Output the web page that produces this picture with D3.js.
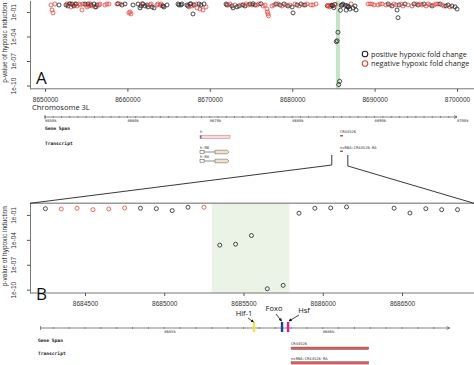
<!DOCTYPE html>
<html>
<head>
<meta charset="utf-8">
<script src="https://cdn.jsdelivr.net/npm/d3@7"></script>
<style>
  body { margin: 0; background: #fff; }
  svg { display: block; }
</style>
</head>
<body>
<div id="canvas"></div>
<script>
// ---- data ----
// panel A: positions in kb, p-values, sign of the hypoxic fold change (1 = positive, 0 = negative)
var posA = [8650.73, 8650.85, 8650.97, 8651.21, 8651.70, 8652.55, 8652.67, 8652.79, 8652.91, 8653.03,
  8653.16, 8653.28, 8653.40, 8653.52, 8653.64, 8653.76, 8653.88, 8654.13, 8654.25, 8654.49,
  8654.61, 8654.85, 8654.98, 8655.10, 8655.22, 8655.34, 8655.46, 8655.58, 8655.70, 8655.95,
  8656.07, 8656.19, 8656.31, 8656.55, 8656.67, 8657.28, 8657.52, 8657.77, 8658.74, 8658.86,
  8659.10, 8659.34, 8659.71, 8660.19, 8660.32, 8660.44, 8660.68, 8661.29, 8661.53, 8661.65,
  8661.77, 8661.89, 8662.14, 8662.38, 8662.50, 8662.74, 8662.86, 8662.99, 8663.23, 8663.59,
  8663.71, 8663.96, 8664.08, 8664.20, 8664.32, 8664.44, 8664.81, 8666.14, 8666.26, 8666.50,
  8666.63, 8667.23, 8667.35, 8667.48, 8667.60, 8667.72, 8667.84, 8667.96, 8668.08, 8668.33,
  8668.45, 8668.69, 8668.81, 8668.93, 8669.17, 8669.30, 8669.54, 8671.97, 8672.09, 8672.21,
  8672.45, 8672.69, 8672.82, 8673.06, 8673.30, 8673.54, 8673.79, 8674.03, 8674.27, 8674.39,
  8674.64, 8674.88, 8675.12, 8675.24, 8675.49, 8675.73, 8675.97, 8676.21, 8676.46, 8676.70,
  8676.94, 8677.00, 8677.06, 8677.12, 8677.55, 8677.79, 8678.03, 8678.28, 8678.52, 8678.76,
  8679.01, 8679.25, 8679.49, 8679.73, 8679.98, 8680.10, 8680.34, 8680.58, 8680.83, 8681.07,
  8681.31, 8681.55, 8681.80, 8682.28, 8682.52, 8682.89, 8687.00, 8687.14, 8687.38, 8687.62,
  8687.75, 8689.20, 8689.44, 8689.68, 8689.93, 8690.41, 8690.66, 8690.90, 8691.38, 8691.63,
  8691.87, 8692.11, 8692.35, 8692.60, 8692.72, 8692.84, 8692.96, 8693.20, 8693.45, 8693.69,
  8694.05, 8694.54, 8694.78, 8695.02, 8695.27, 8695.51, 8695.75, 8695.99, 8696.24, 8696.48,
  8696.72, 8696.97, 8697.21, 8697.45, 8697.69, 8697.94, 8698.18, 8698.42, 8698.67, 8698.91,
  8699.15, 8699.39, 8699.76, 8700.00]
var pA = [0.71, 0.175, 0.076, 0.94, 0.71, 0.71, 0.94, 0.54, 0.94, 1.0,
  0.41, 0.94, 0.71, 0.54, 0.94, 0.94, 0.54, 0.94, 0.71, 0.175,
  0.94, 0.94, 0.71, 0.41, 0.94, 0.54, 1.0, 0.71, 0.54, 0.94,
  0.41, 0.41, 0.71, 0.71, 0.94, 0.71, 0.94, 0.94, 0.94, 1.0,
  0.94, 0.71, 0.94, 0.076, 0.1, 0.057, 0.71, 0.94, 0.31, 0.54,
  1.0, 0.94, 0.54, 0.71, 0.41, 0.71, 0.94, 0.41, 0.31, 0.71,
  0.94, 0.71, 0.94, 0.54, 0.54, 0.41, 0.71, 0.94, 0.71, 0.71,
  0.94, 0.71, 0.54, 0.41, 0.94, 1.0, 0.54, 0.057, 0.71, 0.94,
  0.31, 0.94, 0.23, 0.71, 0.175, 0.94, 0.41, 0.94, 0.71, 0.71,
  0.94, 0.54, 0.31, 0.71, 0.41, 0.54, 0.71, 0.71, 0.54, 0.94,
  0.71, 0.94, 0.71, 1.0, 0.71, 0.71, 0.94, 1.0, 0.54, 0.71,
  0.23, 0.1, 0.057, 0.033, 0.54, 0.71, 0.94, 0.94, 0.71, 0.54,
  0.94, 0.71, 0.54, 0.71, 0.41, 0.076, 0.94, 0.71, 0.54, 0.94,
  0.71, 0.71, 0.94, 0.71, 0.71, 0.94, 0.23, 0.94, 0.31, 0.54,
  0.175, 0.94, 0.94, 0.94, 0.71, 0.71, 0.94, 0.94, 0.71, 0.94,
  0.71, 0.54, 0.94, 0.71, 0.17, 0.02, 0.71, 0.94, 0.54, 0.94,
  0.71, 0.54, 0.94, 0.94, 0.71, 0.94, 0.71, 0.94, 0.54, 0.94,
  0.71, 0.54, 0.71, 0.94, 0.94, 0.94, 0.71, 0.54, 0.54, 0.71,
  0.41, 0.54, 0.41, 0.23]
var signA = [0, 0, 0, 0, 1, 1, 0, 1, 0, 1,
  0, 1, 0, 1, 0, 1, 0, 0, 0, 0,
  0, 1, 0, 0, 1, 0, 0, 1, 0, 1,
  0, 1, 1, 0, 0, 0, 0, 0, 0, 1,
  0, 1, 1, 0, 0, 0, 1, 1, 1, 1,
  0, 1, 1, 1, 1, 0, 0, 1, 1, 0,
  0, 0, 0, 0, 1, 1, 1, 1, 1, 1,
  1, 1, 1, 0, 1, 1, 0, 1, 1, 0,
  0, 1, 0, 1, 0, 1, 0, 1, 1, 0,
  0, 1, 1, 0, 1, 1, 0, 1, 1, 0,
  0, 1, 0, 1, 1, 0, 0, 1, 0, 0,
  0, 0, 0, 0, 0, 0, 1, 0, 1, 0,
  1, 0, 1, 0, 1, 1, 0, 1, 0, 1,
  0, 1, 0, 0, 0, 0, 1, 0, 1, 1,
  1, 0, 0, 0, 0, 0, 0, 0, 0, 1,
  0, 1, 0, 0, 1, 1, 1, 0, 0, 1,
  0, 0, 1, 0, 1, 0, 0, 1, 0, 0,
  0, 1, 0, 0, 0, 1, 0, 0, 1, 1,
  0, 1, 1, 1]

// panel B: positions in bp, p-values, sign
var posB = [8684250, 8684350, 8684450, 8684550, 8684650, 8684750, 8684850, 8684950, 8685050, 8685150,
  8685250, 8685350, 8685450, 8685550, 8685650, 8685750, 8685850, 8685950, 8686050, 8686150,
  8686450, 8686550, 8686650, 8686750, 8686850]
var pB = [0.57, 0.52, 0.64, 0.43, 0.52, 0.69, 0.64, 0.57, 0.33, 0.84,
  0.84, 2.3e-5, 3.0e-5, 3.3e-4, 1.3e-10, 3.3e-10, 0.16, 0.64, 0.69, 0.91,
  0.64, 0.17, 0.57, 0.43, 0.43]
var signB = [1, 0, 0, 0, 0, 0, 1, 1, 1, 1,
  0, 1, 1, 1, 1, 1, 1, 1, 1, 1,
  1, 1, 1, 1, 1]

var yTicks = [1e-1, 1e-4, 1e-7, 1e-10]
var xTicksA = [8650000, 8660000, 8670000, 8680000, 8690000, 8700000]
var xTicksB = [8684500, 8685000, 8685500, 8686000, 8686500]
var rulerLabelsA = [8650000, 8660000, 8670000, 8680000, 8690000, 8700000]
var rulerLabelsB = [8685000, 8686000]
var band = [8685300, 8685790]
var zoomSpan = [8684800, 8686750]
var legendLabels = ['positive hypoxic fold change', 'negative hypoxic fold change']

// gene models (bp)
var hSpan = [8668810, 8672450]
var hTranscripts = ['h-RB', 'h-RA']
var hUtr5 = [8668810, 8669300]
var hCds = [8670630, 8672330]
var crSpan = [8685800, 8686290]
var motifNames = ['Hif-1', 'Foxo', 'Hsf']
var motifPos = [8685566, 8685743, 8685781]

// ---- drawing ----
var W = 474, H = 365
var red = '#e2453f', black = '#222'
var svg = d3.select('#canvas').append('svg').attr('width', W).attr('height', H)
  .style('font-family', 'Liberation Sans, Arial, sans-serif')

var dataA = posA.map(function (d, i) { return {pos: d * 1000, p: pA[i], s: signA[i]} })
  .concat(posB.map(function (d, i) { return {pos: d, p: pB[i], s: signB[i]} }))
var dataB = posB.map(function (d, i) { return {pos: d, p: pB[i], s: signB[i]} })

var logDom = [Math.pow(10, -10.4), Math.pow(10, 0.4)]
var xA = d3.scaleLinear().domain([8648180, 8702060]).range([30, 474])
var yA = d3.scaleLog().domain(logDom).range([88.8, 0.5])
var xB = d3.scaleLinear().domain([8684153, 8686954]).range([30, 474])
var yB = d3.scaleLog().domain(logDom).range([293, 203.3])

var fmtE = function (d) { return '1e-' + d3.format('02d')(Math.round(-Math.log10(d))) }

function panel (x, y, data, xTicks, bandFill, letter, letterY, topLine) {
  var g = svg.append('g')
  var r0 = y.range()
  g.append('rect').attr('x', x(band[0])).attr('y', r0[1])
    .attr('width', x(band[1]) - x(band[0])).attr('height', r0[0] - r0[1])
    .attr('fill', bandFill)
  if (topLine) {
    g.append('line').attr('x1', 30).attr('x2', 474).attr('y1', r0[1]).attr('y2', r0[1])
      .attr('stroke', '#9a9a9a').attr('stroke-width', 1.6)
  }
  var xAxis = g.append('g').attr('transform', 'translate(0,' + r0[0] + ')')
    .call(d3.axisBottom(x).tickValues(xTicks).tickFormat(d3.format('d')).tickSize(3).tickSizeOuter(0))
  xAxis.select('.domain').attr('d', 'M30,0H474').attr('stroke', '#777')
  xAxis.selectAll('.tick line').attr('stroke', '#555')
  xAxis.selectAll('text').attr('font-size', '6.5px').attr('fill', '#333').attr('dy', '1.1em')
  var yAxis = g.append('g').attr('transform', 'translate(30,0)')
    .call(d3.axisLeft(y).tickValues(yTicks).tickFormat(fmtE).tickSize(3).tickSizeOuter(0))
  yAxis.select('.domain').attr('stroke', '#777')
  yAxis.selectAll('.tick line').attr('stroke', '#555')
  yAxis.selectAll('text').attr('font-size', '6.5px').attr('fill', '#333')
    .attr('text-anchor', 'middle').attr('x', 0).attr('dy', 0)
    .attr('transform', 'translate(-14,0) rotate(-90)')
  g.append('text').text('p-value of hypoxic induction')
    .attr('transform', 'translate(7,' + ((r0[0] + r0[1]) / 2 - 2) + ') rotate(-90)')
    .attr('text-anchor', 'middle').attr('font-size', '6.5px').attr('fill', '#333')
  g.selectAll('circle.pt').data(data).enter().append('circle').attr('class', 'pt')
    .attr('cx', function (d) { return x(d.pos) })
    .attr('cy', function (d) { return y(d.p) })
    .attr('r', 2).attr('fill', 'none')
    .attr('stroke', function (d) { return d.s ? black : red })
    .attr('stroke-width', 0.8)
  g.append('text').text(letter).attr('x', 36).attr('y', letterY)
    .attr('font-family', 'Open Sans, sans-serif').attr('font-size', '17px').attr('fill', '#111')
  return g
}

panel(xA, yA, dataA, xTicksA, '#c5e4c5', 'A', 84, false)
panel(xB, yB, dataB, xTicksB, '#eaf3e5', 'B', 300, true)

svg.append('text').text('Chromosome 3L').attr('x', 32).attr('y', 110)
  .attr('font-family', 'Open Sans, sans-serif').attr('font-size', '7.5px').attr('fill', '#222')

// legend
legendLabels.forEach(function (t, i) {
  svg.append('circle').attr('cx', 365).attr('cy', 54 + i * 9.5).attr('r', 2.8)
    .attr('fill', 'none').attr('stroke', i ? red : black).attr('stroke-width', 1.1)
  svg.append('text').text(t).attr('x', 371).attr('y', 56.8 + i * 9.5)
    .attr('font-family', 'Open Sans, sans-serif').attr('font-size', '7.3px').attr('fill', '#222')
})

// genome browser style tracks
function ruler (x, y0, from, to, step, labels) {
  var g = svg.append('g')
  g.append('line').attr('x1', x(from)).attr('x2', x(to)).attr('y1', y0).attr('y2', y0)
    .attr('stroke', '#333').attr('stroke-width', 0.6)
  g.append('path').attr('d', 'M' + (x(to) - 3) + ',' + (y0 - 1.5) + 'L' + x(to) + ',' + y0 + 'L' + (x(to) - 3) + ',' + (y0 + 1.5))
    .attr('fill', 'none').attr('stroke', '#333').attr('stroke-width', 0.6)
  g.append('line').attr('x1', x(from)).attr('x2', x(from)).attr('y1', y0 - 2).attr('y2', y0 + 2)
    .attr('stroke', '#333').attr('stroke-width', 0.6)
  g.selectAll('line.t').data(d3.range(Math.ceil(from / step) * step, to, step)).enter()
    .append('line').attr('class', 't')
    .attr('x1', function (d) { return x(d) }).attr('x2', function (d) { return x(d) })
    .attr('y1', y0 - 1).attr('y2', y0 + 1).attr('stroke', '#444').attr('stroke-width', 0.5)
  g.selectAll('text').data(labels).enter().append('text')
    .text(function (d) { return (d / 1000) + 'k' })
    .attr('x', function (d) { return x(d) }).attr('y', y0 + 4.5)
    .attr('font-size', '3.8px').attr('fill', '#333').attr('font-family', 'DejaVu Sans Mono, monospace')
  return g
}
function trackLabel (t, x, y) {
  svg.append('text').text(t).attr('x', x).attr('y', y)
    .attr('font-family', 'DejaVu Sans Mono, monospace').attr('font-weight', 'bold')
    .attr('font-size', '4.6px').attr('fill', '#222')
}
function tinyLabel (t, x, y) {
  svg.append('text').text(t).attr('x', x).attr('y', y)
    .attr('font-family', 'DejaVu Sans Mono, monospace').attr('font-size', '3.8px').attr('fill', '#333')
}

// track under A
ruler(xA, 117, 8650000, 8700000, 1000, rulerLabelsA)
trackLabel('Gene Span', 45, 130)
trackLabel('Transcript', 45, 145)
tinyLabel('h', xA(hSpan[0]), 133)
svg.append('rect').attr('x', xA(hSpan[0])).attr('y', 135.5).attr('width', xA(hSpan[1]) - xA(hSpan[0])).attr('height', 3)
  .attr('fill', '#f3dede').attr('stroke', '#d98080').attr('stroke-width', 0.6)
svg.append('rect').attr('x', xA(hSpan[0])).attr('y', 135.5).attr('width', 1.5).attr('height', 3).attr('fill', '#6a6ab0')
hTranscripts.forEach(function (t, i) {
  var yy = 152 + i * 9
  tinyLabel(t, xA(hSpan[0]), yy - 3.5)
  svg.append('line').attr('x1', xA(hUtr5[1])).attr('x2', xA(hCds[0])).attr('y1', yy).attr('y2', yy)
    .attr('stroke', '#444').attr('stroke-width', 0.6)
  svg.append('rect').attr('x', xA(hUtr5[0])).attr('y', yy - 1.5).attr('width', xA(hUtr5[1]) - xA(hUtr5[0])).attr('height', 3)
    .attr('fill', '#fff').attr('stroke', '#444').attr('stroke-width', 0.5)
  var a = xA(hCds[0]), b = xA(hCds[1])
  svg.append('path').attr('d', 'M' + a + ',' + (yy - 1.8) + 'L' + (b - 2) + ',' + (yy - 1.8) + 'L' + b + ',' + yy + 'L' + (b - 2) + ',' + (yy + 1.8) + 'L' + a + ',' + (yy + 1.8) + 'Z')
    .attr('fill', '#f3e2c8').attr('stroke', '#555').attr('stroke-width', 0.5)
})
tinyLabel('CR44526', xA(crSpan[0]), 133)
svg.append('rect').attr('x', xA(crSpan[0])).attr('y', 135).attr('width', 3).attr('height', 1.5).attr('fill', '#b55')
tinyLabel('ncRNA:CR44526-RA', xA(crSpan[0]), 148.5)
svg.append('rect').attr('x', xA(crSpan[0])).attr('y', 150.5).attr('width', 3).attr('height', 1.5).attr('fill', '#b55')

// zoom connector
var zl = xA(zoomSpan[0]), zr = xA(zoomSpan[1])
svg.append('path').attr('d', 'M' + zl + ',155L' + zl + ',165L30,203.3')
  .attr('fill', 'none').attr('stroke', '#222').attr('stroke-width', 0.9)
svg.append('path').attr('d', 'M' + zr + ',155L' + zr + ',166L474,203.3')
  .attr('fill', 'none').attr('stroke', '#222').attr('stroke-width', 0.9)

// track under B
ruler(xB, 328, 8684220, 8686800, 100, rulerLabelsB)
trackLabel('Gene Span', 38, 342)
trackLabel('Transcript', 38, 355)
tinyLabel('CR44526', xB(crSpan[0]), 345)
svg.append('rect').attr('x', xB(crSpan[0])).attr('y', 347).attr('width', xB(crSpan[1]) - xB(crSpan[0])).attr('height', 2.6)
  .attr('fill', '#c96464').attr('stroke', '#a04848').attr('stroke-width', 0.4)
tinyLabel('ncRNA:CR44526-RA', xB(crSpan[0]), 359.5)
svg.append('rect').attr('x', xB(crSpan[0])).attr('y', 361.5).attr('width', xB(crSpan[1]) - xB(crSpan[0])).attr('height', 2.6)
  .attr('fill', '#c96464').attr('stroke', '#a04848').attr('stroke-width', 0.4)

// motifs
var motifColors = ['#f2e24a', '#1f3f8f', '#d61f8a']
var motifLabelXY = [[244, 316], [274, 311], [304, 313]]
motifPos.forEach(function (p, i) {
  var mx = xB(p)
  svg.append('rect').attr('x', mx - 1.2).attr('y', 322).attr('width', 2.4).attr('height', 10)
    .attr('fill', motifColors[i])
  svg.append('text').text(motifNames[i]).attr('x', motifLabelXY[i][0]).attr('y', motifLabelXY[i][1])
    .attr('text-anchor', 'middle').attr('font-family', 'Open Sans, sans-serif')
    .attr('font-size', '7.5px').attr('fill', '#111')
})
// arrows from labels to motifs
svg.append('defs').append('marker').attr('id', 'ah').attr('viewBox', '0 0 6 6')
  .attr('refX', 5).attr('refY', 3).attr('markerWidth', 4).attr('markerHeight', 4).attr('orient', 'auto')
  .append('path').attr('d', 'M0,0L6,3L0,6Z').attr('fill', '#111')
var arrows = [[248, 318, xB(motifPos[0]) - 0.5, 322], [276, 314, xB(motifPos[1]) - 0.5, 321], [299, 315, xB(motifPos[2]) + 1, 321]]
arrows.forEach(function (a) {
  svg.append('line').attr('x1', a[0]).attr('y1', a[1]).attr('x2', a[2]).attr('y2', a[3])
    .attr('stroke', '#111').attr('stroke-width', 0.8).attr('marker-end', 'url(#ah)')
})
</script>
</body>
</html>
